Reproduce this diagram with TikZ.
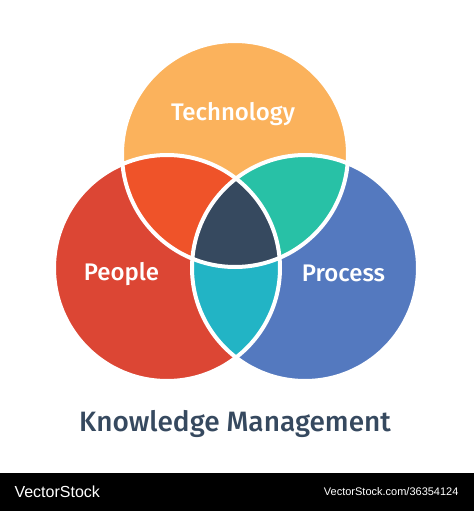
\documentclass[tikz,border=0pt]{standalone}
\usepackage{fontspec}
\setmainfont{Fira Sans}
\newfontfamily\medfont{Fira Sans}[UprightFont={* Medium}]
\newfontfamily\stockfont{Liberation Sans}
\definecolor{techcol}{HTML}{FBB25C}
\definecolor{peoplecol}{HTML}{DC4634}
\definecolor{processcol}{HTML}{5479BF}
\definecolor{tpcol}{HTML}{EF5329}
\definecolor{trcol}{HTML}{28C1A6}
\definecolor{prcol}{HTML}{22B4C5}
\definecolor{allcol}{HTML}{36495F}
\tikzset{
  ring/.style={white,line width=4pt},
  circlelabel/.style={text=white,anchor=base,font=\medfont\fontsize{24}{27}\selectfont},
}
\begin{document}
\begin{tikzpicture}[x=1pt,y=-1pt]
\fill[white] (0,0) rectangle (474,511);
\coordinate (tech) at (235,154);
\coordinate (people) at (167,268);
\coordinate (process) at (305,268);
% the three sets
\fill[techcol] (tech) circle (113pt);
\fill[peoplecol] (people) circle (113pt);
\fill[processcol] (process) circle (113pt);
% pairwise overlaps
\begin{scope}
\clip (tech) circle (113pt);
\fill[tpcol] (people) circle (113pt);
\fill[trcol] (process) circle (113pt);
\end{scope}
\begin{scope}
\clip (people) circle (113pt);
\fill[prcol] (process) circle (113pt);
\clip (process) circle (113pt);
\fill[allcol] (tech) circle (113pt);
\end{scope}
% white rims
\draw[ring] (tech) circle (113pt);
\draw[ring] (people) circle (113pt);
\draw[ring] (process) circle (113pt);
\node[circlelabel] (techlabel) at (233,120.5) {Technology};
\node[circlelabel] (peoplelabel) at (121.5,280) {People};
\node[circlelabel] (processlabel) at (343.5,281) {Process};
\node[text=allcol,anchor=base,font=\medfont\fontsize{28}{31}\selectfont] (title) at (235,431.5) {Knowledge Management};
% stock bar
\fill[black] (0,473) rectangle (474,511);
\node[text=white,font=\stockfont\fontsize{16}{18}\selectfont,anchor=west] (brand) at (11,492) {VectorStock};
\node[text=white,font=\stockfont\fontsize{11}{13}\selectfont,anchor=east] (stockid) at (462,492) {VectorStock.com/36354124};
\end{tikzpicture}
\end{document}
